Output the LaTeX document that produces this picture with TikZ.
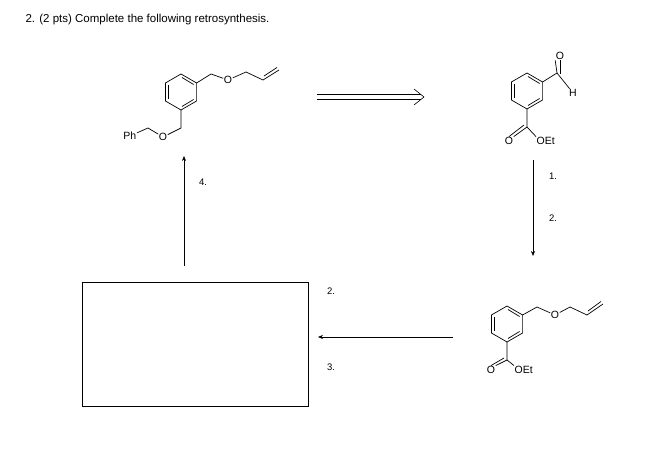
\documentclass[tikz,border=0pt]{standalone}
\usepackage{fontspec}
\setmainfont{Liberation Sans}
\usetikzlibrary{arrows.meta}
\begin{document}
\begin{tikzpicture}[x=1pt,y=-1pt,
  bond/.style={line width=0.7pt},
  atom/.style={inner sep=0.5pt,font=\fontsize{10.5}{11}\selectfont},
  lbl/.style={font=\fontsize{9.5}{10}\selectfont,inner sep=0pt},
  rxn/.style={line width=0.6pt,-{Stealth[length=5pt,width=4pt]}}]
\useasboundingbox (0,0) rectangle (665,449);
\node[anchor=west,font=\fontsize{11.5}{13}\selectfont] (title) at (22,20) {2. (2 pts) Complete the following retrosynthesis.};
\newcommand{\ringmol}[2]{%
 \draw[bond] (#1,#2-18)--(#1+15.6,#2-9)--(#1+15.6,#2+9)--(#1,#2+18)--(#1-15.6,#2+9)--(#1-15.6,#2-9)--cycle;
 \draw[bond] (#1-12.6,#2-7)--(#1-12.6,#2+7);
 \draw[bond] (#1+1,#2-14.5)--(#1+12.6,#2-7.5);
 \draw[bond] (#1+12.6,#2+7.5)--(#1+1,#2+14.5);}
% molecule 1
\ringmol{181}{92}
\node[atom] (o1) at (228,80) {O};
\node[atom] (o2) at (163,137) {O};
\node[atom,anchor=east] (ph) at (137,136) {Ph};
\draw[bond] (196.6,83)--(211,74)--(o1);
\draw[bond] (o1)--(246,72)--(263,80)--(279,70);
\draw[bond] (264,76)--(277,67.5);
\draw[bond] (181,110)--(181,128)--(o2);
\draw[bond] (o2)--(148,128)--(ph);
% molecule 2
\ringmol{527}{91}
\node[atom] (o3) at (560,56) {O};
\node[atom] (h1) at (573,93) {H};
\node[atom] (o4) at (509,141) {O};
\node[atom,anchor=west] (oet1) at (536,141) {OEt};
\draw[bond] (542.6,82)--(557,73);
\draw[bond] (557,73)--(h1);
\draw[bond] (557,73)--(o3.south west);
\draw[bond] (560,74)--(o3.south);
\draw[bond] (527,109)--(527,127)--(o4.north east);
\draw[bond] (524,125)--(o4.north);
\draw[bond] (527,127)--(oet1.north west);
% molecule 3
\ringmol{507}{324}
\node[atom] (o5) at (555,315) {O};
\node[atom] (o6) at (491,370) {O};
\node[atom,anchor=west] (oet2) at (514,370) {OEt};
\draw[bond] (522.6,315)--(537,307)--(o5);
\draw[bond] (o5)--(570,307)--(587,315)--(603,304);
\draw[bond] (588,311)--(601,301.5);
\draw[bond] (507,342)--(507,360)--(o6.north east);
\draw[bond] (504,358)--(o6.north);
\draw[bond] (507,360)--(oet2.north west);
% arrows
\draw[line width=0.6pt] (317,94.5)--(421,94.5);
\draw[line width=0.6pt] (317,99.5)--(421,99.5);
\draw[line width=0.6pt] (414,89)--(424,97)--(414,105);
\coordinate (d1) at (533,160); \coordinate (d2) at (533,256);
\draw[rxn] (d1)--(d2);
\node[lbl] (l1) at (553,176) {1.};
\node[lbl] (l2) at (553,218) {2.};
\coordinate (e1) at (453,337); \coordinate (e2) at (318,337);
\draw[rxn] (e1)--(e2);
\node[lbl] (l3) at (331,291) {2.};
\node[lbl] (l4) at (331,367) {3.};
\coordinate (u1) at (184,266); \coordinate (u2) at (184,156);
\draw[rxn] (u1)--(u2);
\node[lbl] (l5) at (203,182) {4.};
\node[draw,line width=0.6pt,minimum width=226pt,minimum height=124pt,anchor=north west] (box) at (82,282) {};
\end{tikzpicture}
\end{document}
